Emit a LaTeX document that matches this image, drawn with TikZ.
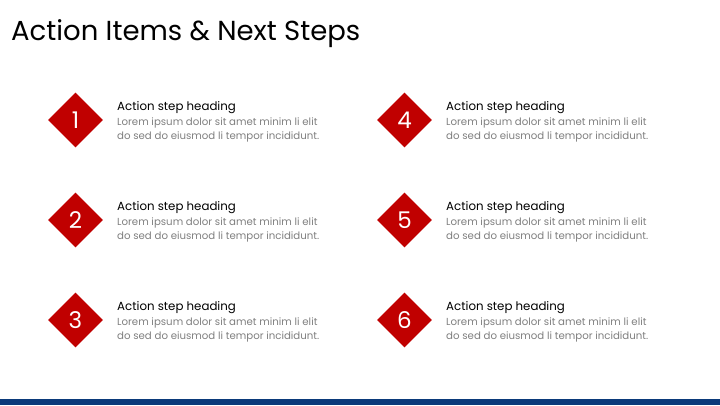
\documentclass[tikz,border=0pt]{standalone}
\usepackage{fontspec}
\setmainfont{Poppins}
\usetikzlibrary{shapes.geometric}
\definecolor{dred}{HTML}{C00000}
\definecolor{dblue}{HTML}{0B3A7A}
\definecolor{tgray}{HTML}{7F7F7F}
\tikzset{
  dia/.style={diamond,fill=dred,minimum width=55pt,minimum height=55pt,inner sep=0pt,text=white,font=\fontsize{23}{23}\selectfont},
  head/.style={anchor=base west,inner sep=0pt,font=\fontsize{11.8}{12}\selectfont,text=black},
  body/.style={anchor=base west,inner sep=0pt,font=\fontsize{10.2}{12}\selectfont,text=tgray}
}
\begin{document}
\begin{tikzpicture}[x=1pt,y=-1pt]
\useasboundingbox (0,0) rectangle (720,405);
\fill[dblue] (0,399) rectangle (720,405);
\node[anchor=base west,inner sep=0pt,font=\fontsize{27.5}{30}\selectfont] (title) at (11,40) {Action Items \& Next Steps};
\foreach \n/\x/\y in {1/75.5/120,2/75.5/220,3/75.5/320,4/404.5/120,5/404.5/220,6/404.5/320}{
  \node[dia] (d\n) at (\x,\y) {\n};
  \node[head] (h\n) at (\x+41.5,\y-10) {Action step heading};
  \node[body] (a\n) at (\x+41.5,\y+5) {Lorem ipsum dolor sit amet minim li elit};
  \node[body] (b\n) at (\x+41.5,\y+19.5) {do sed do eiusmod li tempor incididunt.};
}
\end{tikzpicture}
\end{document}
